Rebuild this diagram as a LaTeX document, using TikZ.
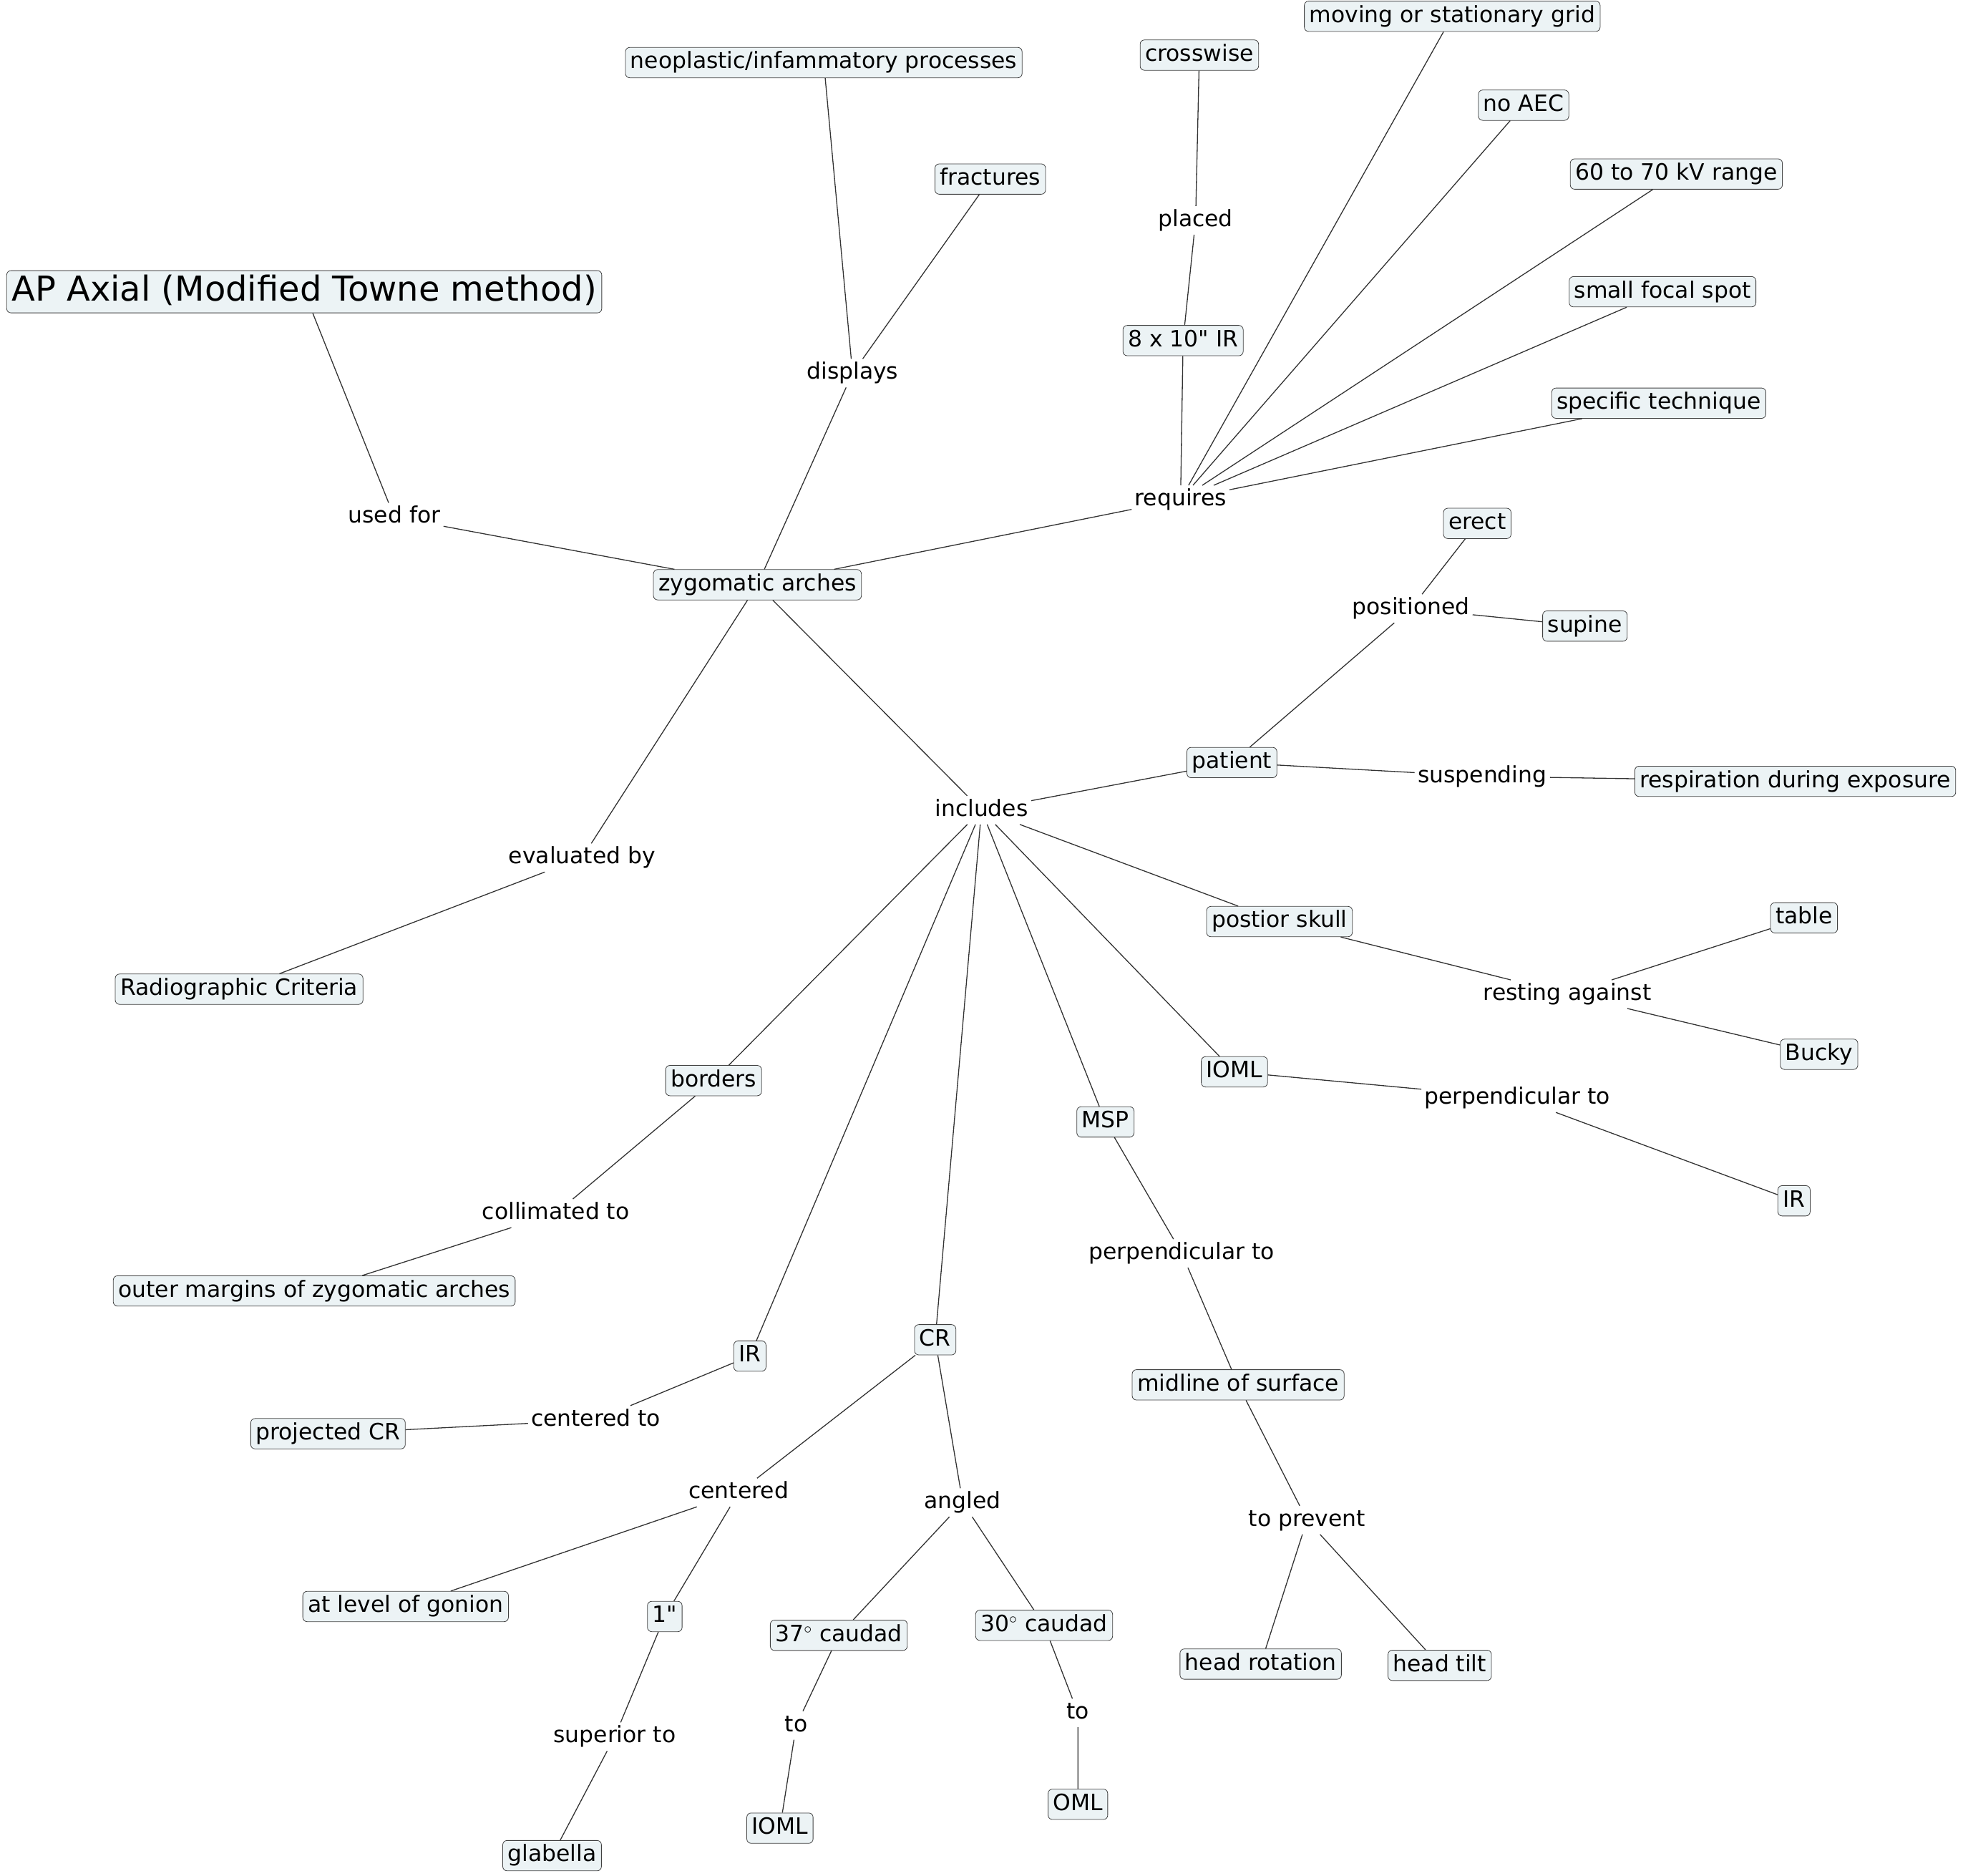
\documentclass[tikz,border=0pt]{standalone}
\usepackage{fontspec}
\setmainfont{DejaVu Sans}
\newfontfamily\plainfont{DejaVu Sans}
\newcommand\inchmark{{\plainfont"}}
\usepackage{tikz}
\definecolor{boxfill}{RGB}{236,243,245}

\begin{document}
\begin{tikzpicture}[x=0.8747pt, y=-0.8747pt,
    concept/.style={draw=black!75, fill=boxfill, rounded corners=3pt, inner xsep=3.5pt, inner ysep=2.8pt,
        text height=12pt, text depth=3.6pt, font=\fontsize{15.7}{19}\selectfont},
    phrase/.style={inner sep=2pt, text height=12pt, text depth=3.6pt, font=\fontsize{15.7}{19}\selectfont},
    wire/.style={draw=black!80, line width=0.65pt}]
    \useasboundingbox (0,0) rectangle (1568,1498);

    % Begriffe
    \node[concept, font=\fontsize{24}{29}\selectfont, text height=18pt, text depth=5.5pt, inner ysep=3pt] (title) at (243,233) {AP Axial (Modified Towne method)};
    \node[concept] (zyg) at (605,467) {zygomatic arches};
    \node[concept] (neo) at (658,50) {neoplastic/infammatory processes};
    \node[concept] (frac) at (791,143) {fractures};
    \node[concept] (cross) at (958,44) {crosswise};
    \node[concept] (grid) at (1160,13) {moving or stationary grid};
    \node[concept] (noaec) at (1217,84) {no AEC};
    \node[concept] (kv) at (1339,139) {60 to 70 kV range};
    \node[concept] (focal) at (1328,233) {small focal spot};
    \node[concept] (tech) at (1325,322) {specific technique};
    \node[concept] (ir8) at (945,272) {8 x 10\inchmark{} IR};
    \node[concept] (erect) at (1180,418) {erect};
    \node[concept] (supine) at (1266,500) {supine};
    \node[concept] (patient) at (984,609) {patient};
    \node[concept] (resp) at (1434,624) {respiration during exposure};
    \node[concept] (skull) at (1022,736) {postior skull};
    \node[concept] (table) at (1441,733) {table};
    \node[concept] (bucky) at (1453,842) {Bucky};
    \node[concept] (iomla) at (986,856) {IOML};
    \node[concept] (irb) at (1433,959) {IR};
    \node[concept] (msp) at (883,896) {MSP};
    \node[concept] (borders) at (570,863) {borders};
    \node[concept] (rc) at (191,790) {Radiographic Criteria};
    \node[concept] (outer) at (251,1031) {outer margins of zygomatic arches};
    \node[concept] (irc) at (599,1083) {IR};
    \node[concept] (cr) at (747,1070) {CR};
    \node[concept] (projcr) at (262,1145) {projected CR};
    \node[concept] (midline) at (989,1106) {midline of surface};
    \node[concept] (gonion) at (324,1283) {at level of gonion};
    \node[concept] (inch) at (531,1291) {1\inchmark};
    \node[concept] (cdd37) at (670,1306) {37$^\circ$ caudad};
    \node[concept] (cdd30) at (834,1298) {30$^\circ$ caudad};
    \node[concept] (headrot) at (1007,1329) {head rotation};
    \node[concept] (headtilt) at (1150,1330) {head tilt};
    \node[concept] (glabella) at (441,1482) {glabella};
    \node[concept] (iomlb) at (623,1460) {IOML};
    \node[concept] (oml) at (861,1441) {OML};

    % Verbindungswoerter
    \node[phrase] (usedfor) at (315,413) {used for};
    \node[phrase] (displays) at (681,298) {displays};
    \node[phrase] (placed) at (955,176) {placed};
    \node[phrase] (requires) at (943,399) {requires};
    \node[phrase] (positioned) at (1127,486) {positioned};
    \node[phrase] (suspending) at (1184,620) {suspending};
    \node[phrase] (includes) at (784,647) {includes};
    \node[phrase] (evaluated) at (465,685) {evaluated by};
    \node[phrase] (resting) at (1252,794) {resting against};
    \node[phrase] (perpa) at (1212,877) {perpendicular to};
    \node[phrase] (perpb) at (944,1001) {perpendicular to};
    \node[phrase] (collim) at (444,969) {collimated to};
    \node[phrase] (centto) at (476,1134) {centered to};
    \node[phrase] (centered) at (590,1192) {centered};
    \node[phrase] (angled) at (769,1200) {angled};
    \node[phrase] (prevent) at (1044,1214) {to prevent};
    \node[phrase] (superior) at (491,1387) {superior to};
    \node[phrase] (toa) at (636,1378) {to};
    \node[phrase] (tob) at (861,1368) {to};

    % Linien
    \draw[wire] (title) -- (usedfor) -- (zyg);
    \draw[wire] (zyg) -- (displays);
    \foreach \t in {neo,frac} \draw[wire] (displays) -- (\t);
    \draw[wire] (zyg) -- (requires);
    \foreach \t in {ir8,grid,noaec,kv,focal,tech} \draw[wire] (requires) -- (\t);
    \draw[wire] (ir8) -- (placed) -- (cross);
    \draw[wire] (zyg) -- (evaluated) -- (rc);
    \draw[wire] (zyg) -- (includes);
    \foreach \t in {patient,skull,iomla,msp,cr,irc,borders} \draw[wire] (includes) -- (\t);
    \draw[wire] (patient) -- (positioned);
    \foreach \t in {erect,supine} \draw[wire] (positioned) -- (\t);
    \draw[wire] (patient) -- (suspending) -- (resp);
    \draw[wire] (skull) -- (resting);
    \foreach \t in {table,bucky} \draw[wire] (resting) -- (\t);
    \draw[wire] (iomla) -- (perpa) -- (irb);
    \draw[wire] (msp) -- (perpb) -- (midline);
    \draw[wire] (midline) -- (prevent);
    \foreach \t in {headrot,headtilt} \draw[wire] (prevent) -- (\t);
    \draw[wire] (borders) -- (collim) -- (outer);
    \draw[wire] (irc) -- (centto) -- (projcr);
    \draw[wire] (cr) -- (centered);
    \foreach \t in {gonion,inch} \draw[wire] (centered) -- (\t);
    \draw[wire] (inch) -- (superior) -- (glabella);
    \draw[wire] (cr) -- (angled);
    \foreach \t in {cdd37,cdd30} \draw[wire] (angled) -- (\t);
    \draw[wire] (cdd37) -- (toa) -- (iomlb);
    \draw[wire] (cdd30) -- (tob) -- (oml);
\end{tikzpicture}
\end{document}
